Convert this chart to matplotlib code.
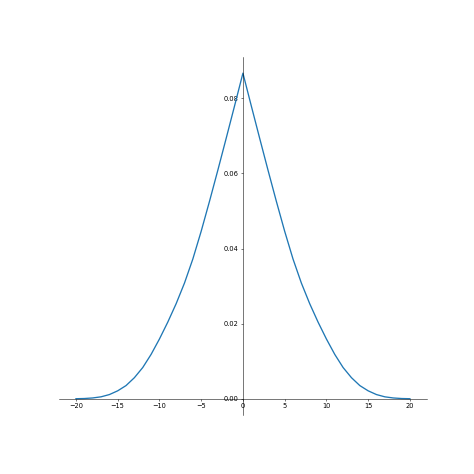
import matplotlib
matplotlib.use("Agg")
import matplotlib.pyplot as plt

# values
x_vals = [-20, -19, -18, -17, -16, -15, -14, -13, -12, -11, -10,
          -9, -8, -7, -6, -5, -4, -3, -2, -1, 0,
          1, 2, 3, 4, 5, 6, 7, 8, 9, 10,
          11, 12, 13, 14, 15, 16, 17, 18, 19, 20]
y_vals = [0.0, 0.00005, 0.0002, 0.0005, 0.0011, 0.0021, 0.0035, 0.0056, 0.0083, 0.0118, 0.0159,
          0.0204, 0.0253, 0.0308, 0.0372, 0.0446, 0.0526, 0.0609, 0.0694, 0.0780, 0.0867,
          0.0780, 0.0694, 0.0609, 0.0526, 0.0446, 0.0372, 0.0308, 0.0253, 0.0204, 0.0159,
          0.0118, 0.0083, 0.0056, 0.0035, 0.0021, 0.0011, 0.0005, 0.0002, 0.00005, 0.0]

fig = plt.figure(figsize=(10, 10), dpi=47.4)
ax = fig.add_axes([0.125, 0.1245, 0.775, 0.7555])
ax.plot(x_vals, y_vals, linewidth=2)

ax.spines['left'].set_position(('data', 0))
ax.spines['bottom'].set_position(('data', 0))
ax.spines['right'].set_visible(False)
ax.spines['top'].set_visible(False)

fig.savefig("out.png", dpi=47.4)
